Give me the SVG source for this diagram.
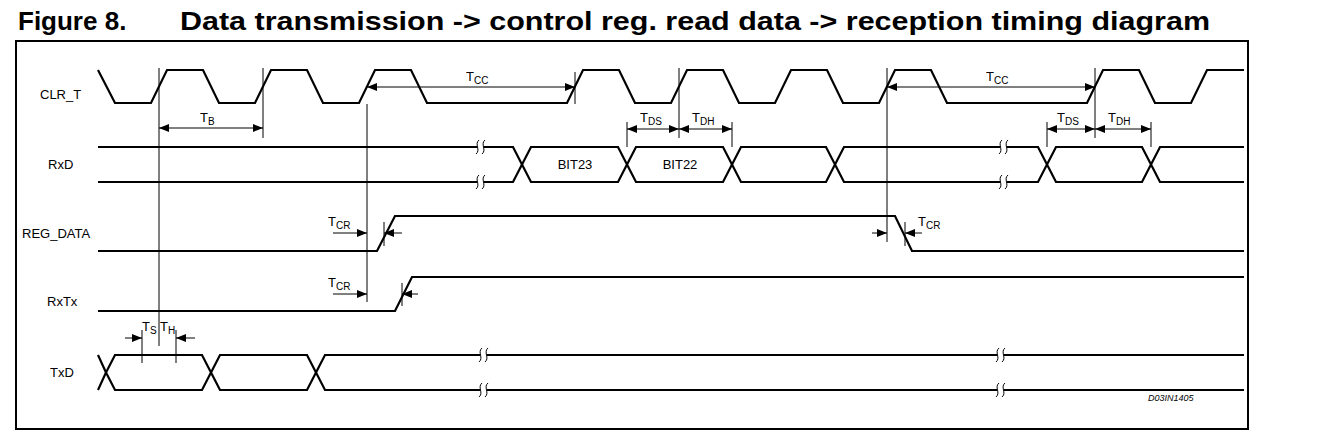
<svg xmlns="http://www.w3.org/2000/svg" width="1334" height="448" viewBox="0 0 1334 448">
<style>
.sig{fill:none;stroke:#000;stroke-width:2.2;stroke-linejoin:miter}
.thin{fill:none;stroke:#000;stroke-width:1}
.arr{fill:none;stroke:#000;stroke-width:1;marker-end:url(#ah)}
.dim{fill:none;stroke:#000;stroke-width:1;marker-start:url(#ah);marker-end:url(#ah)}
.brk{fill:none;stroke:#000;stroke-width:1}
.gap{fill:#fff;stroke:none}
text{font-family:"Liberation Sans",Arial,sans-serif;fill:#000}
.lbl{font-size:13px}
.t{font-size:13px}
.sub{font-size:10px}
</style>
<defs>
<marker id="ah" viewBox="0 0 10 8" refX="10" refY="4" markerWidth="10" markerHeight="8" markerUnits="userSpaceOnUse" orient="auto-start-reverse">
<path d="M0,0 L10,4 L0,8 Z" fill="#000"/>
</marker>
</defs>
<rect width="1334" height="448" fill="#fff"/>
<text x="18" y="30" font-size="26" font-weight="bold">Figure 8.</text>
<text x="180" y="30" font-size="26" font-weight="bold" textLength="1030" lengthAdjust="spacingAndGlyphs">Data transmission -&gt; control reg. read data -&gt; reception timing diagram</text>
<rect x="16" y="41" width="1232" height="388" fill="none" stroke="#000" stroke-width="2"/>

<g id="labels">
<text class="lbl" x="40" y="99">CLR_T</text>
<text class="lbl" x="48" y="169">RxD</text>
<text class="lbl" x="22" y="238">REG_DATA</text>
<text class="lbl" x="47" y="306">RxTx</text>
<text class="lbl" x="50" y="377">TxD</text>
<text x="1148" y="401" font-size="9" font-style="italic">D03IN1405</text>
</g>

<g id="CLR_T">
<path class="sig" d="M98,70 L115,103 L151,103 L167,70 L203,70 L219,103 L255,103 L271,70 L307,70 L323,103 L359,103 L375,70 L411,70 L427,103 L567,103 L583,70 L619,70 L635,103 L671,103 L687,70 L723,70 L739,103 L775,103 L791,70 L827,70 L843,103 L879,103 L895,70 L931,70 L947,103 L1087,103 L1103,70 L1139,70 L1155,103 L1191,103 L1207,70 L1244,70"/>
</g>

<g id="RxD">
<path class="sig" d="M98,147 L513,147 L522,164.5 L513,182 L98,182"/>
<path class="sig" d="M522,164.5 L531,147 L618,147 L627,164.5 L618,182 L531,182 Z"/>
<path class="sig" d="M627,164.5 L636,147 L723,147 L732,164.5 L723,182 L636,182 Z"/>
<path class="sig" d="M732,164.5 L741,147 L826,147 L835,164.5 L826,182 L741,182 Z"/>
<path class="sig" d="M835,164.5 L844,147 L1038,147 L1047,164.5 L1038,182 L844,182 Z"/>
<path class="sig" d="M1047,164.5 L1056,147 L1142,147 L1151,164.5 L1142,182 L1056,182 Z"/>
<path class="sig" d="M1244,147 L1160,147 L1151,164.5 L1160,182 L1244,182"/>
<text class="lbl" x="575" y="169" text-anchor="middle">BIT23</text>
<text class="lbl" x="680" y="169" text-anchor="middle">BIT22</text>
</g>

<g id="REG_DATA">
<path class="sig" d="M98,251 L377,251 L395,216 L895,216 L912,251 L1244,251"/>
</g>

<g id="RxTx">
<path class="sig" d="M98,311 L395,311 L412,277 L1244,277"/>
</g>

<g id="TxD">
<path class="sig" d="M98,355 L106,372.5 L98,390"/>
<path class="sig" d="M106,372.5 L115,355 L202,355 L211,372.5 L202,390 L115,390 Z"/>
<path class="sig" d="M211,372.5 L220,355 L307,355 L316,372.5 L307,390 L220,390 Z"/>
<path class="sig" d="M1244,355 L325,355 L316,372.5 L325,390 L1244,390"/>
</g>

<g id="breaks">
<rect class="gap" x="477" y="143" width="7" height="8"/>
<rect class="gap" x="477" y="178" width="7" height="8"/>
<rect class="gap" x="1000" y="143" width="7" height="8"/>
<rect class="gap" x="1000" y="178" width="7" height="8"/>
<rect class="gap" x="480" y="351" width="7" height="8"/>
<rect class="gap" x="480" y="386" width="7" height="8"/>
<rect class="gap" x="997" y="351" width="7" height="8"/>
<rect class="gap" x="997" y="386" width="7" height="8"/>
<path class="brk" d="M479,140 C474,144 481,150 476,154 M485,140 C480,144 487,150 482,154 M479,175 C474,179 481,185 476,189 M485,175 C480,179 487,185 482,189"/>
<path class="brk" d="M1002,140 C997,144 1004,150 999,154 M1008,140 C1003,144 1010,150 1005,154 M1002,175 C997,179 1004,185 999,189 M1008,175 C1003,179 1010,185 1005,189"/>
<path class="brk" d="M482,348 C477,352 484,358 479,362 M488,348 C483,352 490,358 485,362 M482,383 C477,387 484,393 479,397 M488,383 C483,387 490,393 485,397"/>
<path class="brk" d="M999,348 C994,352 1001,358 996,362 M1005,348 C1000,352 1007,358 1002,362 M999,383 C994,387 1001,393 996,397 M1005,383 C1000,387 1007,393 1002,397"/>
</g>

<g id="connectors">
<line class="thin" x1="159" y1="68" x2="159" y2="346"/>
<line class="thin" x1="263" y1="68" x2="263" y2="138"/>
<line class="thin" x1="367" y1="104" x2="367" y2="302"/>
<line class="thin" x1="575" y1="72" x2="575" y2="104"/>
<line class="thin" x1="679" y1="68" x2="679" y2="138"/>
<line class="thin" x1="887" y1="68" x2="887" y2="242"/>
<line class="thin" x1="1095" y1="68" x2="1095" y2="138"/>
<line class="thin" x1="627" y1="122" x2="627" y2="147"/>
<line class="thin" x1="732" y1="122" x2="732" y2="147"/>
<line class="thin" x1="1047" y1="122" x2="1047" y2="147"/>
<line class="thin" x1="1151" y1="122" x2="1151" y2="147"/>
<line class="dim" x1="159" y1="128" x2="263" y2="128"/>
<line class="dim" x1="367" y1="87" x2="575" y2="87"/>
<line class="dim" x1="887" y1="87" x2="1095" y2="87"/>
<line class="dim" x1="627" y1="129" x2="679" y2="129"/>
<line class="dim" x1="679" y1="129" x2="732" y2="129"/>
<line class="dim" x1="1047" y1="129" x2="1095" y2="129"/>
<line class="dim" x1="1095" y1="129" x2="1151" y2="129"/>
<line class="thin" x1="384" y1="222" x2="384" y2="246"/>
<line class="arr" x1="333" y1="233" x2="367" y2="233"/>
<line class="arr" x1="402" y1="233" x2="384" y2="233"/>
<line class="thin" x1="905" y1="222" x2="905" y2="246"/>
<line class="arr" x1="872" y1="233" x2="887" y2="233"/>
<line class="arr" x1="922" y1="233" x2="905" y2="233"/>
<line class="thin" x1="402" y1="283" x2="402" y2="306"/>
<line class="arr" x1="333" y1="294" x2="367" y2="294"/>
<line class="arr" x1="418" y1="294" x2="402" y2="294"/>
<line class="thin" x1="142" y1="330" x2="142" y2="363"/>
<line class="thin" x1="176" y1="330" x2="176" y2="363"/>
<line class="arr" x1="125" y1="338" x2="142" y2="338"/>
<line class="arr" x1="195" y1="338" x2="176" y2="338"/>
</g>

<g id="timing-labels">
<text class="t" x="200" y="122">T<tspan class="sub" dy="3">B</tspan></text>
<text class="t" x="466" y="81">T<tspan class="sub" dy="3">CC</tspan></text>
<text class="t" x="986" y="81">T<tspan class="sub" dy="3">CC</tspan></text>
<text class="t" x="640" y="122">T<tspan class="sub" dy="3">DS</tspan></text>
<text class="t" x="692" y="122">T<tspan class="sub" dy="3">DH</tspan></text>
<text class="t" x="1057" y="122">T<tspan class="sub" dy="3">DS</tspan></text>
<text class="t" x="1108" y="122">T<tspan class="sub" dy="3">DH</tspan></text>
<text class="t" x="328" y="226">T<tspan class="sub" dy="3">CR</tspan></text>
<text class="t" x="918" y="226">T<tspan class="sub" dy="3">CR</tspan></text>
<text class="t" x="328" y="287">T<tspan class="sub" dy="3">CR</tspan></text>
<text class="t" x="142" y="331">T<tspan class="sub" dy="3">S</tspan></text>
<text class="t" x="160" y="331">T<tspan class="sub" dy="3">H</tspan></text>
</g>
</svg>
